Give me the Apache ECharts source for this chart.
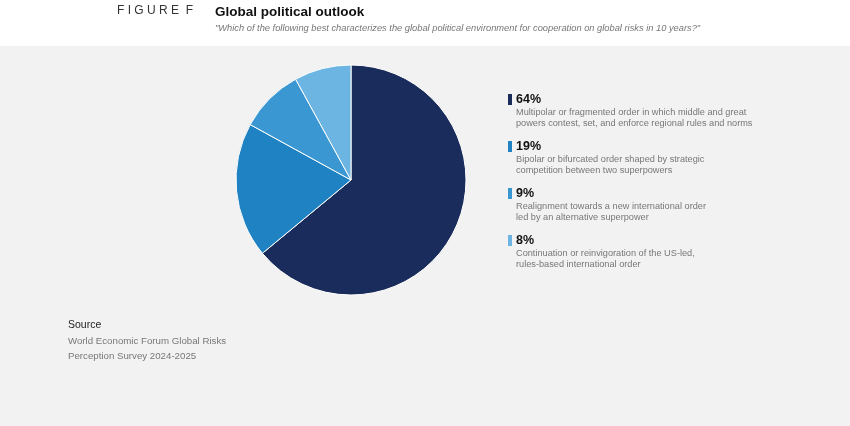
<!DOCTYPE html>
<html><head><meta charset="utf-8">
<script src="https://cdn.jsdelivr.net/npm/echarts@6/dist/echarts.min.js"></script>
<style>html,body{margin:0;padding:0;background:#fff}#c{width:850px;height:426px}</style>
</head><body><div id="c"></div>
<script>
const categories = [
  "Multipolar or fragmented order in which middle and great\npowers contest, set, and enforce regional rules and norms",
  "Bipolar or bifurcated order shaped by strategic\ncompetition between two superpowers",
  "Realignment towards a new international order\nled by an alternative superpower",
  "Continuation or reinvigoration of the US-led,\nrules-based international order"
];
const values = [64, 19, 9, 8];
const colors = ["#1a2c5b", "#1f82c2", "#3b97d1", "#6cb5e2"];

const chart = echarts.init(document.getElementById('c'));
const F = "'Liberation Sans', Arial, sans-serif";
const graphics = [
  {type:'rect', shape:{x:0,y:46,width:850,height:380}, style:{fill:'#f2f2f2'}, z:-10},
  {type:'text', left:117, top:5, style:{text:'F I G U R E  F', font:'12px '+F, fill:'#333'}},
  {type:'text', left:215, top:5, style:{text:'Global political outlook', font:'bold 13.5px '+F, fill:'#111'}},
  {type:'text', left:215, top:24, style:{text:'"Which of the following best characterizes the global political environment for cooperation on global risks in 10 years?"', font:'italic 9.3px '+F, fill:'#777'}},
  {type:'text', left:68, top:320, style:{text:'Source', font:'10.5px '+F, fill:'#222'}},
  {type:'text', left:68, top:336, style:{text:'World Economic Forum Global Risks', font:'9.7px '+F, fill:'#777'}},
  {type:'text', left:68, top:351, style:{text:'Perception Survey 2024-2025', font:'9.7px '+F, fill:'#777'}}
];
values.forEach((v,i)=>{
  const y0 = 93 + i*47;
  graphics.push({type:'rect', shape:{x:508,y:y0+1,width:4,height:11}, style:{fill:colors[i]}});
  graphics.push({type:'text', left:516, top:y0, style:{text:v+'%', font:'bold 12.5px '+F, fill:'#111'}});
  graphics.push({type:'text', left:516, top:y0+14, style:{text:categories[i], font:'9.2px '+F, fill:'#777', lineHeight:11}});
});
chart.setOption({
  backgroundColor:'#ffffff',
  animation:false,
  graphic: graphics,
  series:[{
    type:'pie',
    center:[351,180],
    radius:[0,115],
    startAngle:90,
    clockwise:true,
    label:{show:false},
    labelLine:{show:false},
    itemStyle:{borderColor:'#ffffff', borderWidth:1},
    data: values.map((v,i)=>({value:v, name:categories[i], itemStyle:{color:colors[i]}}))
  }]
});
</script></body></html>
